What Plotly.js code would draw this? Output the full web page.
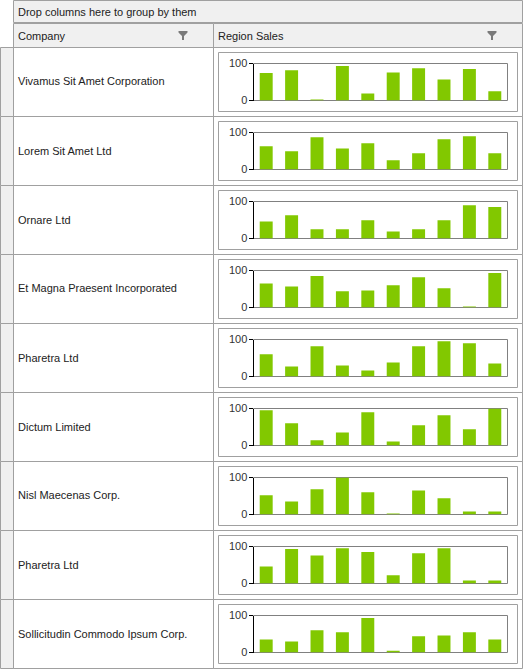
<!DOCTYPE html>
<html>
<head>
<meta charset="utf-8">
<script src="https://cdn.plot.ly/plotly-3.0.1.min.js"></script>
<style>
  html, body { margin: 0; padding: 0; background: #fff; }
  #grid { width: 523px; height: 669px; }
</style>
</head>
<body>
<div id="grid"></div>
<script>
(function () {
    'use strict';

    const companies = [
        'Vivamus Sit Amet Corporation',
        'Lorem Sit Amet Ltd',
        'Ornare Ltd',
        'Et Magna Praesent Incorporated',
        'Pharetra Ltd',
        'Dictum Limited',
        'Nisl Maecenas Corp.',
        'Pharetra Ltd',
        'Sollicitudin Commodo Ipsum Corp.'
    ];

    const regions = ['Region 1', 'Region 2', 'Region 3', 'Region 4', 'Region 5',
                     'Region 6', 'Region 7', 'Region 8', 'Region 9', 'Region 10'];

    // sales per region, one row per company
    const sales1 = [74, 82, 3, 93, 19, 76, 87, 57, 85, 25];
    const sales2 = [63, 49, 87, 57, 71, 25, 44, 82, 90, 44];
    const sales3 = [46, 63, 25, 25, 49, 19, 25, 49, 90, 85];
    const sales4 = [65, 57, 85, 44, 46, 60, 82, 52, 3, 93];
    const sales5 = [60, 27, 82, 30, 16, 38, 82, 95, 90, 35];
    const sales6 = [95, 60, 14, 35, 90, 11, 55, 82, 44, 100];
    const sales7 = [52, 35, 68, 100, 60, 3, 65, 44, 8, 8];
    const sales8 = [46, 93, 76, 95, 85, 22, 82, 95, 8, 8];
    const sales9 = [35, 30, 60, 55, 93, 5, 44, 46, 55, 35];

    const salesRows = [sales1, sales2, sales3, sales4, sales5, sales6, sales7, sales8, sales9];

    const headerGroupText = 'Drop columns here to group by them';
    const columnTitles = ['Company', 'Region Sales'];

    const COLORS = {
        border: '#a0a0a0',
        headerBg: '#f0f0f0',
        text: '#222222',
        tick: '#333333',
        plotBorder: '#808080',
        bar: '#82c800',
        icon: '#7a7a7a'
    };

    const W = 523, H = 669;
    const ROW_TOP = 47, ROW_H = 69;
    const FONT = 'Liberation Sans, Arial, sans-serif';

    // pixel -> paper fraction (margins are zero, so paper == page)
    const px = x => x / W;
    const py = y => 1 - y / H;

    function rect(x0, y0, x1, y1, fill, line) {
        return {
            type: 'rect', xref: 'paper', yref: 'paper', layer: 'below',
            x0: px(x0), x1: px(x1), y0: py(y0), y1: py(y1),
            fillcolor: fill || 'rgba(0,0,0,0)',
            line: { color: line || COLORS.border, width: line === null ? 0 : 1 }
        };
    }

    function funnel(cx, cy) {
        const pts = [[cx - 4.5, cy - 4.5], [cx + 4.5, cy - 4.5], [cx + 4.5, cy - 3],
                     [cx + 1, cy + 0.5], [cx + 1, cy + 4.5], [cx - 1, cy + 4.5],
                     [cx - 1, cy + 0.5], [cx - 4.5, cy - 3]];
        const d = pts.map((p, i) => (i ? 'L' : 'M') + px(p[0]) + ',' + py(p[1])).join(' ') + ' Z';
        return {
            type: 'path', xref: 'paper', yref: 'paper', layer: 'above',
            path: d, fillcolor: COLORS.icon, line: { width: 0 }
        };
    }

    const shapes = [];
    const annotations = [];
    const traces = [];
    const layout = {
        width: W, height: H,
        margin: { l: 0, r: 0, t: 0, b: 0 },
        paper_bgcolor: '#ffffff',
        plot_bgcolor: 'rgba(0,0,0,0)',
        showlegend: false,
        bargap: 0.49,
        font: { family: FONT, size: 11, color: COLORS.text }
    };

    // grouping panel and column headers
    shapes.push(rect(13.5, 0.5, 522.5, 22.5, COLORS.headerBg));
    shapes.push(rect(13.5, 23.5, 213.5, 47.5, COLORS.headerBg));
    shapes.push(rect(213.5, 23.5, 522.5, 47.5, COLORS.headerBg));
    shapes.push(funnel(183, 35.5));
    shapes.push(funnel(492, 35.5));

    const textAnn = (x, y, text) => ({
        xref: 'paper', yref: 'paper', x: px(x), y: py(y),
        xanchor: 'left', yanchor: 'middle', showarrow: false, text: text,
        font: { family: FONT, size: 11, color: COLORS.text }
    });

    annotations.push(textAnn(16, 11.5, headerGroupText));
    annotations.push(textAnn(16, 35.5, columnTitles[0]));
    annotations.push(textAnn(216, 35.5, columnTitles[1]));

    companies.forEach((name, i) => {
        const top = ROW_TOP + i * ROW_H;
        const n = i + 1;

        shapes.push(rect(0.5, top + 0.5, 13.5, top + ROW_H + 0.5, COLORS.headerBg));
        shapes.push(rect(13.5, top + 0.5, 213.5, top + ROW_H + 0.5));
        shapes.push(rect(213.5, top + 0.5, 522.5, top + ROW_H + 0.5));
        // sparkline frame and plot area border
        shapes.push(rect(218.5, top + 5.5, 517.5, top + 64.5));
        shapes.push(rect(253.5, top + 16.5, 507.5, top + 53.5, null, COLORS.plotBorder));

        annotations.push(textAnn(16, top + 34.5, name));

        traces.push({
            type: 'bar',
            x: regions,
            y: salesRows[i],
            xaxis: 'x' + n,
            yaxis: 'y' + n,
            marker: { color: COLORS.bar, line: { width: 0 } },
            hoverinfo: 'skip'
        });

        layout['xaxis' + n] = {
            domain: [px(253.5), px(507.5)],
            anchor: 'y' + n,
            type: 'category',
            range: [-0.5, 9.5],
            showticklabels: false, ticks: '',
            showline: false, showgrid: false, zeroline: false,
            fixedrange: true
        };
        layout['yaxis' + n] = {
            domain: [py(top + 53.5), py(top + 16.5)],
            anchor: 'x' + n,
            range: [0, 100],
            tickvals: [0, 100],
            ticks: 'outside', ticklen: 4, tickcolor: '#000000', tickwidth: 1,
            ticklabelstandoff: -1,
            showline: true, linecolor: '#000000', linewidth: 1,
            showgrid: false, zeroline: false,
            tickfont: { family: FONT, size: 11, color: COLORS.tick },
            fixedrange: true
        };
    });

    layout.shapes = shapes;
    layout.annotations = annotations;

    Plotly.newPlot('grid', traces, layout, { displayModeBar: false, staticPlot: true });
})();
</script>
</body>
</html>
